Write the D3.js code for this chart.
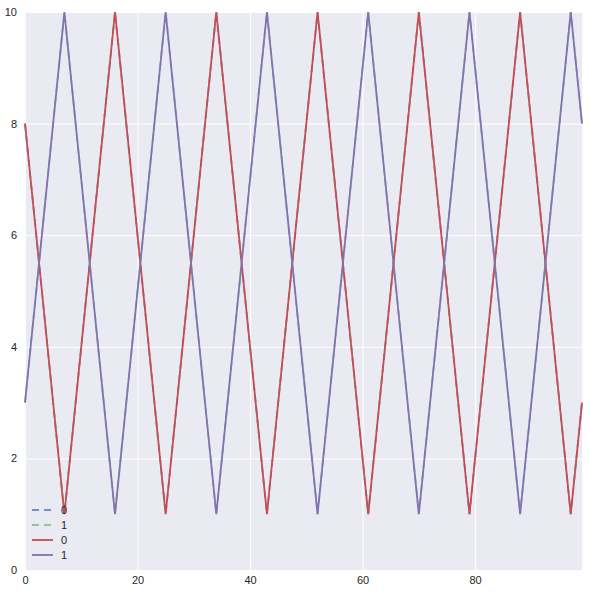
<!DOCTYPE html>
<html>
<head>
<meta charset="utf-8">
<script src="https://cdn.jsdelivr.net/npm/d3@7"></script>
<style>
  body { margin: 0; background: #fff; }
  text { font-family: "Liberation Sans", Arial, sans-serif; }
</style>
</head>
<body>
<div id="chart"></div>
<script>
// Datos
const xValues = d3.range(100)
const serie0 = [8,7,6,5,4,3,2,1,
  2,3,4,5,6,7,8,9,10, 9,8,7,6,5,4,3,2,1,
  2,3,4,5,6,7,8,9,10, 9,8,7,6,5,4,3,2,1,
  2,3,4,5,6,7,8,9,10, 9,8,7,6,5,4,3,2,1,
  2,3,4,5,6,7,8,9,10, 9,8,7,6,5,4,3,2,1,
  2,3,4,5,6,7,8,9,10, 9,8,7,6,5,4,3,2,1,
  2,3]
const serie1 = [3,4,5,6,7,8,9,10,
  9,8,7,6,5,4,3,2,1, 2,3,4,5,6,7,8,9,10,
  9,8,7,6,5,4,3,2,1, 2,3,4,5,6,7,8,9,10,
  9,8,7,6,5,4,3,2,1, 2,3,4,5,6,7,8,9,10,
  9,8,7,6,5,4,3,2,1, 2,3,4,5,6,7,8,9,10,
  9,8,7,6,5,4,3,2,1, 2,3,4,5,6,7,8,9,10,
  9,8]
const xTicks = [0, 20, 40, 60, 80]
const yTicks = [0, 2, 4, 6, 8, 10]
const legendLabels = ["0", "1", "0", "1"]

// Dimensiones
const width = 589, height = 594
const margin = {top: 12, right: 7, bottom: 24, left: 25}
const w = width - margin.left - margin.right
const h = height - margin.top - margin.bottom

const svg = d3.select("#chart")
  .append("svg")
    .attr("width", width)
    .attr("height", height)

const g = svg.append("g")
  .attr("transform", `translate(${margin.left},${margin.top})`)

const x = d3.scaleLinear().domain([0, 99]).range([0, w])
const y = d3.scaleLinear().domain([0, 10]).range([h, 0])

// Fondo estilo seaborn
g.append("rect")
  .attr("width", w)
  .attr("height", h)
  .attr("fill", "#EAEAF2")

// Ejes con rejilla blanca
const xAxis = g.append("g")
  .attr("transform", `translate(0,${h})`)
  .call(d3.axisBottom(x).tickValues(xTicks).tickSize(-h).tickPadding(6))
const yAxis = g.append("g")
  .call(d3.axisLeft(y).tickValues(yTicks).tickSize(-w).tickPadding(8))

for (const ax of [xAxis, yAxis]) {
  ax.select(".domain").remove()
  ax.selectAll(".tick line").attr("stroke", "#fff").attr("stroke-width", 1)
  ax.selectAll(".tick text").attr("fill", "#262626").attr("font-size", 11)
}

const line = d3.line()
  .x((d, i) => x(xValues[i]))
  .y(d => y(d))

const series = [
  {data: serie0, color: "#4C72B0", dash: "7,5", opacity: 0.75},
  {data: serie1, color: "#55A868", dash: "7,5", opacity: 0.6},
  {data: serie0, color: "#C44E52", dash: null, opacity: 1},
  {data: serie1, color: "#8172B2", dash: null, opacity: 1}
]

const plot = g.append("g")
series.forEach(s => {
  plot.append("path")
    .datum(s.data)
    .attr("fill", "none")
    .attr("stroke", s.color)
    .attr("stroke-opacity", s.opacity)
    .attr("stroke-width", 1.8)
    .attr("stroke-dasharray", s.dash)
    .attr("d", line)
})

// Leyenda
const legend = g.append("g").attr("transform", `translate(7,${h - 60})`)
series.forEach((s, i) => {
  const row = legend.append("g").attr("transform", `translate(0,${i * 15})`)
  row.append("line")
    .attr("x1", 0).attr("x2", 21)
    .attr("stroke", s.color)
    .attr("stroke-opacity", s.opacity)
    .attr("stroke-width", 1.8)
    .attr("stroke-dasharray", s.dash)
  row.append("text")
    .attr("x", 29)
    .attr("dy", "0.35em")
    .attr("font-size", 11)
    .attr("fill", "#262626")
    .text(legendLabels[i])
})
</script>
</body>
</html>
